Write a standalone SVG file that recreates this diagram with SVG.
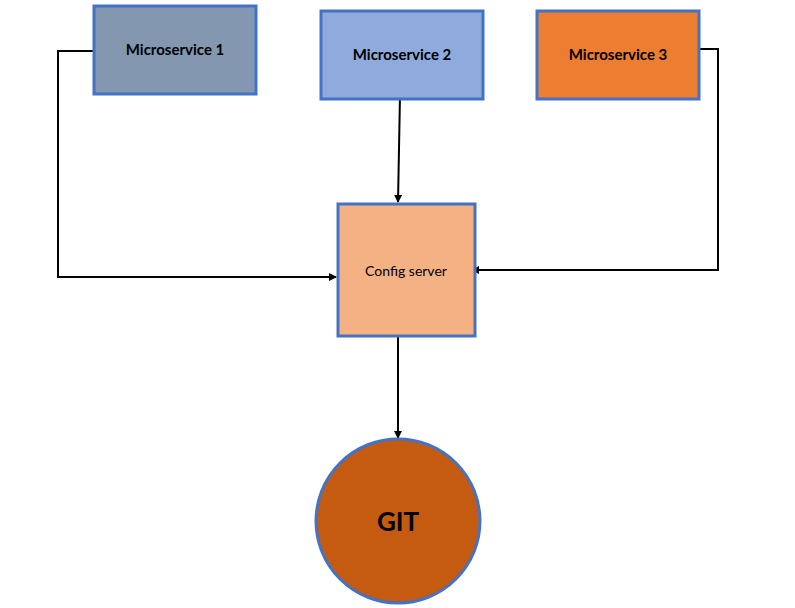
<svg xmlns="http://www.w3.org/2000/svg" width="795" height="608" viewBox="0 0 795 608">
<style>
.n{stroke:#4472c4;stroke-width:3}
.t{font-family:Lato,"Liberation Sans",sans-serif;fill:#000}
.c{fill:none;stroke:#000;stroke-width:2}
</style>
<defs><marker id="a" markerWidth="8" markerHeight="8" refX="7" refY="4" orient="auto" markerUnits="userSpaceOnUse"><path d="M0,0L8,4L0,8z" fill="#000"/></marker></defs>
<rect width="795" height="608" fill="#fff"/>
<g id="connectors">
<path class="c" d="M93,51H58V277H336" marker-end="url(#a)"/>
<path class="c" d="M400,95L398,202" marker-end="url(#a)"/>
<path class="c" d="M700,49H718V270H472" marker-end="url(#a)"/>
<path class="c" d="M398,336V438" marker-end="url(#a)"/>
</g>
<g id="ms1"><rect class="n" x="94" y="6" width="162" height="88" fill="#8497b0"/><text class="t" x="175" y="55" text-anchor="middle" font-size="15" font-weight="bold">Microservice 1</text></g>
<g id="ms2"><rect class="n" x="321" y="11" width="162" height="88" fill="#8faadc"/><text class="t" x="402" y="60" text-anchor="middle" font-size="15" font-weight="bold">Microservice 2</text></g>
<g id="ms3"><rect class="n" x="537" y="11" width="162" height="88" fill="#ed7d31"/><text class="t" x="618" y="60" text-anchor="middle" font-size="15" font-weight="bold">Microservice 3</text></g>
<g id="config"><rect class="n" x="338" y="204" width="137" height="132" fill="#f4b183"/><text class="t" x="406" y="276" text-anchor="middle" font-size="14">Config server</text></g>
<g id="git"><circle class="n" cx="398" cy="521" r="82" fill="#c55a11"/><text class="t" x="398" y="531" text-anchor="middle" font-size="26" font-weight="bold">GIT</text></g>
</svg>
